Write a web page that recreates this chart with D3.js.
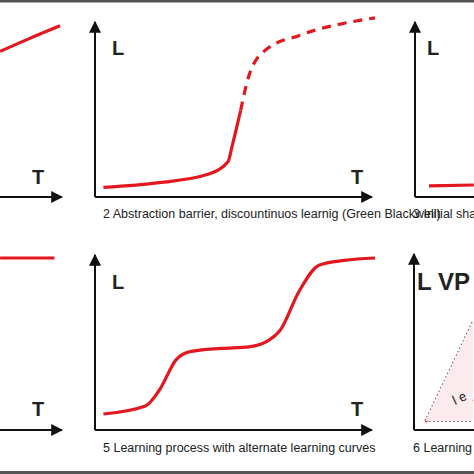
<!DOCTYPE html><html><head><meta charset="utf-8"><script src="https://cdn.jsdelivr.net/npm/d3@7"></script>
<style>body{margin:0;background:#fff}</style></head><body><svg id="c" width="474" height="474"></svg>
<script>
// values in panel units: t 0..100, L 0..~110
const curve1 = [[78.6,91],[89,99],[100,107]];
const curve2solid = [[3,6],[23,9],[40,14],[47.5,22],[49,32],[52,54]];
const curve2dash = [[52,54],[55,76],[61,92],[73,101],[100,112]];
const curve3 = [[5,7],[21,7.5]];
const curve4 = [[78.6,107.5],[98,107.5]];
const curve5 = [[3,10],[18,15],[23,25],[29,44],[34,49],[45,51],[55,52],[62,56],[66,62],[73,87],[80,103],[89,106],[100,107.5]];
const curve6 = [[4,5.6],[21,19]];
const dots6a = [[4,5.6],[21,68]];
const dots6b = [[4,5.6],[21,5.6]];
const captions = ["2 Abstraction barrier, discountinuos learnig (Green Blackwell)","3 Initial sha","5 Learning process with alternate learning curves","6 Learning c"];
const svg=d3.select("#c");
svg.append("rect").attr("x",0).attr("y",0).attr("width",474).attr("height",2.5).attr("fill","#555");
svg.append("rect").attr("x",0).attr("y",471).attr("width",474).attr("height",3).attr("fill","#555");
const defs=svg.append("defs");
defs.append("marker").attr("id","ar").attr("viewBox","0 0 10 10").attr("refX",9).attr("refY",5).attr("markerWidth",6).attr("markerHeight",6).attr("orient","auto-start-reverse").append("path").attr("d","M0,0L10,5L0,10z").attr("fill","#111");
function panel(x0,y0,top,right){
  const x=d3.scaleLinear().domain([0,100]).range([x0,x0+280]);
  const y=d3.scaleLinear().domain([0,100]).range([y0,y0-160]);
  const g=svg.append("g");
  g.append("line").attr("x1",x0).attr("y1",y0).attr("x2",right).attr("y2",y0).attr("stroke","#111").attr("stroke-width",2).attr("marker-end",right<474?"url(#ar)":null);
  if(top) g.append("line").attr("x1",x0).attr("y1",y0).attr("x2",x0).attr("y2",top).attr("stroke","#111").attr("stroke-width",2).attr("marker-end","url(#ar)");
  return {x,y,g};
}
const line=(p)=>d3.line().x(d=>p.x(d[0])).y(d=>p.y(d[1])).curve(d3.curveMonotoneX);
function draw(p,data,dash){p.g.append("path").attr("d",line(p)(data)).attr("fill","none").attr("stroke","#e3171e").attr("stroke-width",3.2).attr("stroke-dasharray",dash||null);}
function txt(x,y,s,sz,w,anchor){svg.append("text").attr("x",x).attr("y",y).text(s).attr("font-family","Liberation Sans Narrow, Arial Narrow, sans-serif").attr("font-size",sz).attr("font-weight",w||"normal").attr("fill","#222").attr("text-anchor",anchor||"start");}
const p1=panel(-220,197,null,62); draw(p1,curve1);
txt(38,184,"T",20,"bold","middle");
const p2=panel(95,197,22,372); draw(p2,curve2solid); draw(p2,curve2dash,"9,7");
txt(118,55,"L",20,"bold","middle");txt(357,184,"T",20,"bold","middle");
const p3=panel(415,197,22,474); draw(p3,curve3);
txt(433,55,"L",20,"bold","middle");
const p4=panel(-220,430,null,62); draw(p4,curve4);
txt(38,416,"T",20,"bold","middle");
const p5=panel(95,430,255,372); draw(p5,curve5);
txt(118,289,"L",20,"bold","middle");txt(357,416,"T",20,"bold","middle");
const p6=panel(414,430,254,474);
svg.append("path").attr("d",`M${p6.x(dots6a[0][0])},${p6.y(dots6a[0][1])}L${p6.x(dots6a[1][0])},${p6.y(dots6a[1][1])}L${p6.x(dots6b[1][0])},${p6.y(dots6b[1][1])}Z`).attr("fill","#fbeaee");
[dots6a,dots6b].forEach(d=>p6.g.append("path").attr("d",d3.line().x(v=>p6.x(v[0])).y(v=>p6.y(v[1]))(d)).attr("stroke","#333").attr("stroke-width",1.5).attr("stroke-dasharray","1.5,2.5").attr("fill","none"));
p6.g.append("path").attr("d",d3.line().x(v=>p6.x(v[0])).y(v=>p6.y(v[1]))(curve6)).attr("stroke","#e3171e").attr("stroke-width",3.2).attr("fill","none");
txt(417,290,"L VP",24,"bold");
svg.append("text").attr("transform","translate(455,405) rotate(-25)").text("l e").attr("font-size",13).attr("font-family","Liberation Sans").attr("fill","#222");
txt(103,218,captions[0],12.5);txt(413,218,captions[1],12.5);
txt(103,452,captions[2],12.5);txt(413,452,captions[3],12.5);
</script></body></html>
